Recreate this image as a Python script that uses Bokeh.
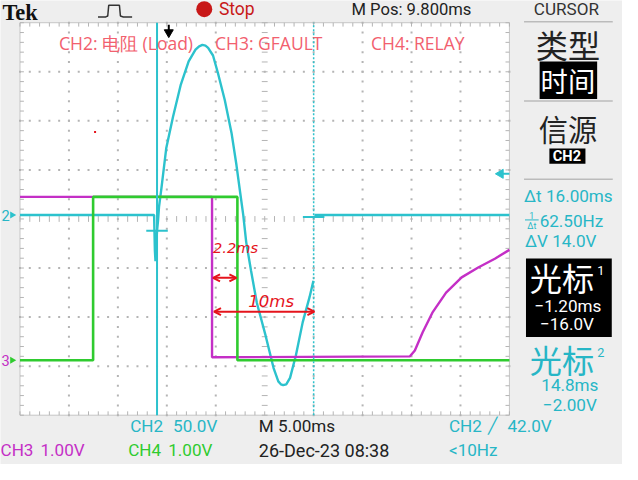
import numpy as np
from bokeh.plotting import figure
from bokeh.models import Range1d, Arrow, OpenHead
from bokeh.core.properties import value
from bokeh.embed import file_html
from bokeh.resources import INLINE

# ---------------- values ----------------
time_per_div = 5.0          # ms/div   ("M 5.00ms")
m_pos = 9.8                 # ms       ("M Pos: 9.800ms")
ch2_scale = 50.0            # V/div
ch34_scale = 1.0            # V/div
trig_level = 42.0           # V
cursor_t = [-1.20, 14.8]    # ms
cursor_v = [-16.0, -2.00]   # V

# CH2: load voltage (V) against time (ms, 0 = trigger)
ch2_t = [-15.2, -1.50, -1.42, -1.36, -1.28, -1.20, -1.10, -1.00, -0.76, -0.26, 0.44, 1.23,
         2.03, 2.73, 3.10, 3.43, 3.75, 4.02, 4.52, 5.02, 5.72, 6.41, 6.91, 7.31, 7.61, 7.91,
         8.41, 9.00, 9.90, 10.70, 11.19, 11.45, 11.69, 12.00, 12.39, 12.99, 13.68, 14.38, 14.78]
ch2_v = [0.0, 0.0, -36.0, -47.0, -30.0, -16.0, -6.0, 8.0, 26.6, 68.0, 100.5, 133.0,
         156.6, 168.5, 172.0, 173.4, 172.6, 170.4, 162.6, 144.8, 117.2, 83.7, 51.2, 21.7, 0.0,
         -27.6, -57.1, -89.7, -123.2, -155.7, -169.5, -172.5, -173.4, -172.5, -166.0, -142.9,
         -109.4, -83.7, -67.0]
ch2_tail_t = [14.88, 34.8]
ch2_tail_v = [0.0, 0.0]

# CH3: GFAULT (V)
ch3_t = [-15.2, 4.42, 4.42, 24.64, 25.14, 25.94, 26.93, 28.33, 29.92, 31.61, 33.31, 34.8]
ch3_v = [3.33, 3.33, 0.06, 0.08, 0.20, 0.57, 0.97, 1.38, 1.69, 1.89, 2.07, 2.25]

# CH4: RELAY (V)
ch4_t = [-15.2, -7.73, -7.73, 7.01, 7.01, 34.8]
ch4_v = [0.0, 0.0, 3.33, 3.33, 0.0, 0.0]

ch_labels = ["CH2: 电阻 (Load)", "CH3: GFAULT", "CH4: RELAY"]

# ---------------- layout (reference pixel grid 638 x 480) ----------------
W, H = 622, 464
RW, RH = 638, 480
GL, GR, GT, GB = 20, 522, 23, 429
FS = W / RW
px_ms = (GR - GL) / (10 * time_per_div)
px_div = (GB - GT) / 8.0
yc = (GT + GB) / 2.0
t_left = m_pos - 5 * time_per_div
t_right = m_pos + 5 * time_per_div
x0 = t_left - GL / px_ms
x1 = x0 + RW / px_ms
d_hi = yc / px_div
d_lo = -(RH - yc) / px_div
ch2_off, ch34_off = 0.08, -2.88

CYAN = "#2cc2cd"
TCYAN = "#27b6c6"
MAG = "#c42fc6"
GRN = "#2fcb2f"
RED_LBL = "#f2606e"
RED_HAND = "#e5141c"
GRID = "#b4b4b4"
UI = "Roboto"
CJK = "Noto Sans CJK SC"

p = figure(width=W, height=H, x_range=Range1d(x0, x1), y_range=Range1d(d_lo, d_hi),
           output_backend="svg", toolbar_location=None, min_border=0,
           x_axis_location=None, y_axis_location=None,
           background_fill_color="#eeeeee", border_fill_color="#eeeeee",
           outline_line_color=None)
p.grid.visible = False
p.extra_x_ranges = {"sx": Range1d(0, RW)}
p.extra_y_ranges = {"sy": Range1d(RH, 0),
                    "ch2": Range1d((d_lo - ch2_off) * ch2_scale, (d_hi - ch2_off) * ch2_scale),
                    "ch34": Range1d((d_lo - ch34_off) * ch34_scale, (d_hi - ch34_off) * ch34_scale)}


def txt(x, y, s, color="#222222", size=17.5, font=UI, align="left", style="normal",
        xr="sx", yr="sy", baseline="middle"):
    p.text(x=[x], y=[y], text=[s], text_color=color, text_font=value(font),
           text_font_size=f"{size * FS:.1f}px", text_align=align, text_baseline=baseline,
           text_font_style=style, x_range_name=xr, y_range_name=yr)


# graticule
p.quad(left=[t_left], right=[t_right], bottom=[-4], top=[4],
       fill_color="white", line_color="#c6c6c6", line_width=1)

minor_d = np.round(np.arange(-4, 4.001, 0.2), 3)
minor_t = t_left + np.arange(0, 50.001, 1.0)
gx, gy = [], []
for k in range(1, 10):
    if k == 5:
        continue
    t = t_left + k * time_per_div
    gx += [t] * len(minor_d)
    gy += list(minor_d)
for d in range(-3, 4):
    if d == 0:
        continue
    gx += list(minor_t)
    gy += [d] * len(minor_t)
p.scatter(gx, gy, marker="square", size=2, fill_color=GRID, line_color=None)

# centre cross ticks
tk_t, tk_d = 3.0 / px_ms, 3.0 / px_div
p.segment(x0=[m_pos - tk_t] * len(minor_d), x1=[m_pos + tk_t] * len(minor_d),
          y0=minor_d, y1=minor_d, line_color=GRID, line_width=1)
p.segment(x0=minor_t, x1=minor_t, y0=[-tk_d] * len(minor_t), y1=[tk_d] * len(minor_t),
          line_color=GRID, line_width=1)
# border ticks
bt, bd = 4.0 / px_ms, 4.0 / px_div
n_d, n_t = len(minor_d), len(minor_t)
p.segment(x0=[t_left] * n_d, x1=[t_left + bt] * n_d, y0=minor_d, y1=minor_d, line_color=GRID)
p.segment(x0=[t_right - bt] * n_d, x1=[t_right] * n_d, y0=minor_d, y1=minor_d, line_color=GRID)
p.segment(x0=minor_t, x1=minor_t, y0=[4] * n_t, y1=[4 - bd] * n_t, line_color=GRID)
p.segment(x0=minor_t, x1=minor_t, y0=[-4] * n_t, y1=[-4 + bd] * n_t, line_color=GRID)

# traces
p.line(ch2_t, ch2_v, y_range_name="ch2", line_color=CYAN, line_width=2.4)
p.line(ch2_tail_t, ch2_tail_v, y_range_name="ch2", line_color=CYAN, line_width=2.4)
p.line(ch3_t, ch3_v, y_range_name="ch34", line_color=MAG, line_width=2.4)
p.line(ch4_t, ch4_v, y_range_name="ch34", line_color=GRN, line_width=2.6)

# cursors
p.segment(x0=[cursor_t[0]], x1=[cursor_t[0]], y0=[-4], y1=[4], line_color=CYAN, line_width=2)
p.segment(x0=[cursor_t[1]], x1=[cursor_t[1]], y0=[-4], y1=[4], line_color=CYAN,
          line_width=1.5, line_dash="2 2")
p.segment(x0=[t - 1.1 for t in cursor_t], x1=[t + 1.1 for t in cursor_t],
          y0=cursor_v, y1=cursor_v, y_range_name="ch2", line_color=CYAN, line_width=2)

# trigger level and position markers
p.segment(x0=[t_right - 0.9], x1=[t_right], y0=[trig_level], y1=[trig_level],
          y_range_name="ch2", line_color=CYAN, line_width=2)
p.scatter([t_right - 0.9], [trig_level], y_range_name="ch2", marker="triangle",
          angle=np.pi / 2, size=9, fill_color=CYAN, line_color=CYAN)
p.segment(x0=[0], x1=[0], y0=[25], y1=[31], y_range_name="sy", line_color="black", line_width=2)
p.scatter([0], [33], y_range_name="sy", marker="inverted_triangle", size=9,
          fill_color="black", line_color="black")

# ground markers
txt(1, 0, "2", color=TCYAN, size=15, yr="ch2")
p.scatter([12], [0], x_range_name="sx", y_range_name="ch2", marker="triangle",
          angle=-np.pi / 2, size=7, fill_color=CYAN, line_color=None)
txt(1, 0, "3", color=MAG, size=15, yr="ch34")
p.scatter([12], [0], x_range_name="sx", y_range_name="ch34", marker="triangle",
          angle=-np.pi / 2, size=7, fill_color=GRN, line_color=None)

# channel name labels
txt(60, 44, ch_labels[0], color=RED_LBL, size=18, font="Open Sans")
txt(220, 44, ch_labels[1], color=RED_LBL, size=18, font="Open Sans")
txt(380, 44, ch_labels[2], color=RED_LBL, size=18, font="Open Sans")

# hand-written annotations
txt(218, 255, "2.2ms", color=RED_HAND, size=15, font="DejaVu Sans", style="italic")
txt(254, 311, "10ms", color=RED_HAND, size=17, font="DejaVu Sans", style="italic")
for (ta, tb, yd) in [(4.52, 6.91, -1.20), (4.62, 14.88, -1.89)]:
    p.add_layout(Arrow(x_start=ta, y_start=yd, x_end=tb, y_end=yd, line_color=RED_HAND,
                       line_width=2,
                       start=OpenHead(size=7, line_color=RED_HAND, line_width=2),
                       end=OpenHead(size=7, line_color=RED_HAND, line_width=2)))
p.scatter([97], [136], x_range_name="sx", y_range_name="sy", marker="square", size=2,
          fill_color=RED_HAND, line_color=None)

# header
txt(2, 12, "Tek", color="#111111", size=23, font="Liberation Serif", style="bold")
p.line([100, 108, 110, 111, 122, 123, 126, 135], [17, 17, 16, 5, 5, 16, 17, 17],
       x_range_name="sx", y_range_name="sy", line_color="#333333", line_width=1.5)
p.scatter([209], [9], x_range_name="sx", y_range_name="sy", marker="circle", size=16,
          fill_color="#c81818", line_color=None)
txt(224, 9, "Stop", color="#c81818", size=18)
txt(360, 9, "M Pos: 9.800ms", color="#222222", size=17)
txt(547, 9, "CURSOR", color="#333333", size=17.5)

# right panel
for ys in (22, 104, 185):
    p.segment(x0=[537], x1=[628], y0=[ys], y1=[ys], x_range_name="sx", y_range_name="sy",
              line_color="#bbbbbb", line_width=1.5)
txt(582, 45, "类型", color="#222222", size=33, font=CJK, align="center")
p.quad(left=[553], right=[612], top=[63], bottom=[102], x_range_name="sx",
       y_range_name="sy", fill_color="black", line_color=None)
txt(582, 82, "时间", color="white", size=28, font=CJK, align="center")
txt(582, 132, "信源", color="#222222", size=30, font=CJK, align="center")
p.quad(left=[563], right=[600], top=[153], bottom=[169], x_range_name="sx",
       y_range_name="sy", fill_color="black", line_color=None)
txt(581, 161, "CH2", color="white", size=15, align="center", style="bold")

txt(537, 202, "Δt 16.00ms", color=TCYAN, size=17.5)
txt(545, 222, "1", color=TCYAN, size=9, align="center")
p.segment(x0=[538], x1=[552], y0=[227], y1=[227], x_range_name="sx", y_range_name="sy",
          line_color=TCYAN, line_width=1)
txt(545, 233, "Δt", color=TCYAN, size=9, align="center")
txt(553, 228, "62.50Hz", color=TCYAN, size=17.5)
txt(538, 249, "ΔV 14.0V", color=TCYAN, size=17.5)

p.quad(left=[539], right=[627], top=[267], bottom=[348], x_range_name="sx",
       y_range_name="sy", fill_color="black", line_color=None)
txt(576, 286, "光标", color="white", size=33, font=CJK, align="center")
txt(612, 279, "1", color="white", size=13)
txt(582, 316, "−1.20ms", color="white", size=17.5, align="center")
txt(581, 335, "−16.0V", color="white", size=17.5, align="center")
txt(576, 371, "光标", color=TCYAN, size=33, font=CJK, align="center")
txt(612, 364, "2", color=TCYAN, size=13)
txt(584, 398, "14.8ms", color=TCYAN, size=17.5, align="center")
txt(584, 418, "−2.00V", color=TCYAN, size=17.5, align="center")

# bottom status lines
txt(133, 440, "CH2", color=TCYAN)
txt(177, 440, "50.0V", color=TCYAN)
txt(265, 440, "M 5.00ms", color="#222222")
txt(460, 440, "CH2", color=TCYAN)
txt(500, 440, "╱", color=TCYAN, size=16, font="DejaVu Sans")
txt(520, 440, "42.0V", color=TCYAN)
txt(0, 465, "CH3", color=MAG)
txt(41, 465, "1.00V", color=MAG)
txt(131, 465, "CH4", color=GRN)
txt(172, 465, "1.00V", color=GRN)
txt(265, 465, "26-Dec-23 08:38", color="#222222", size=18.5)
txt(460, 465, "<10Hz", color=TCYAN)

open("out.html", "w").write(file_html(p, INLINE))
